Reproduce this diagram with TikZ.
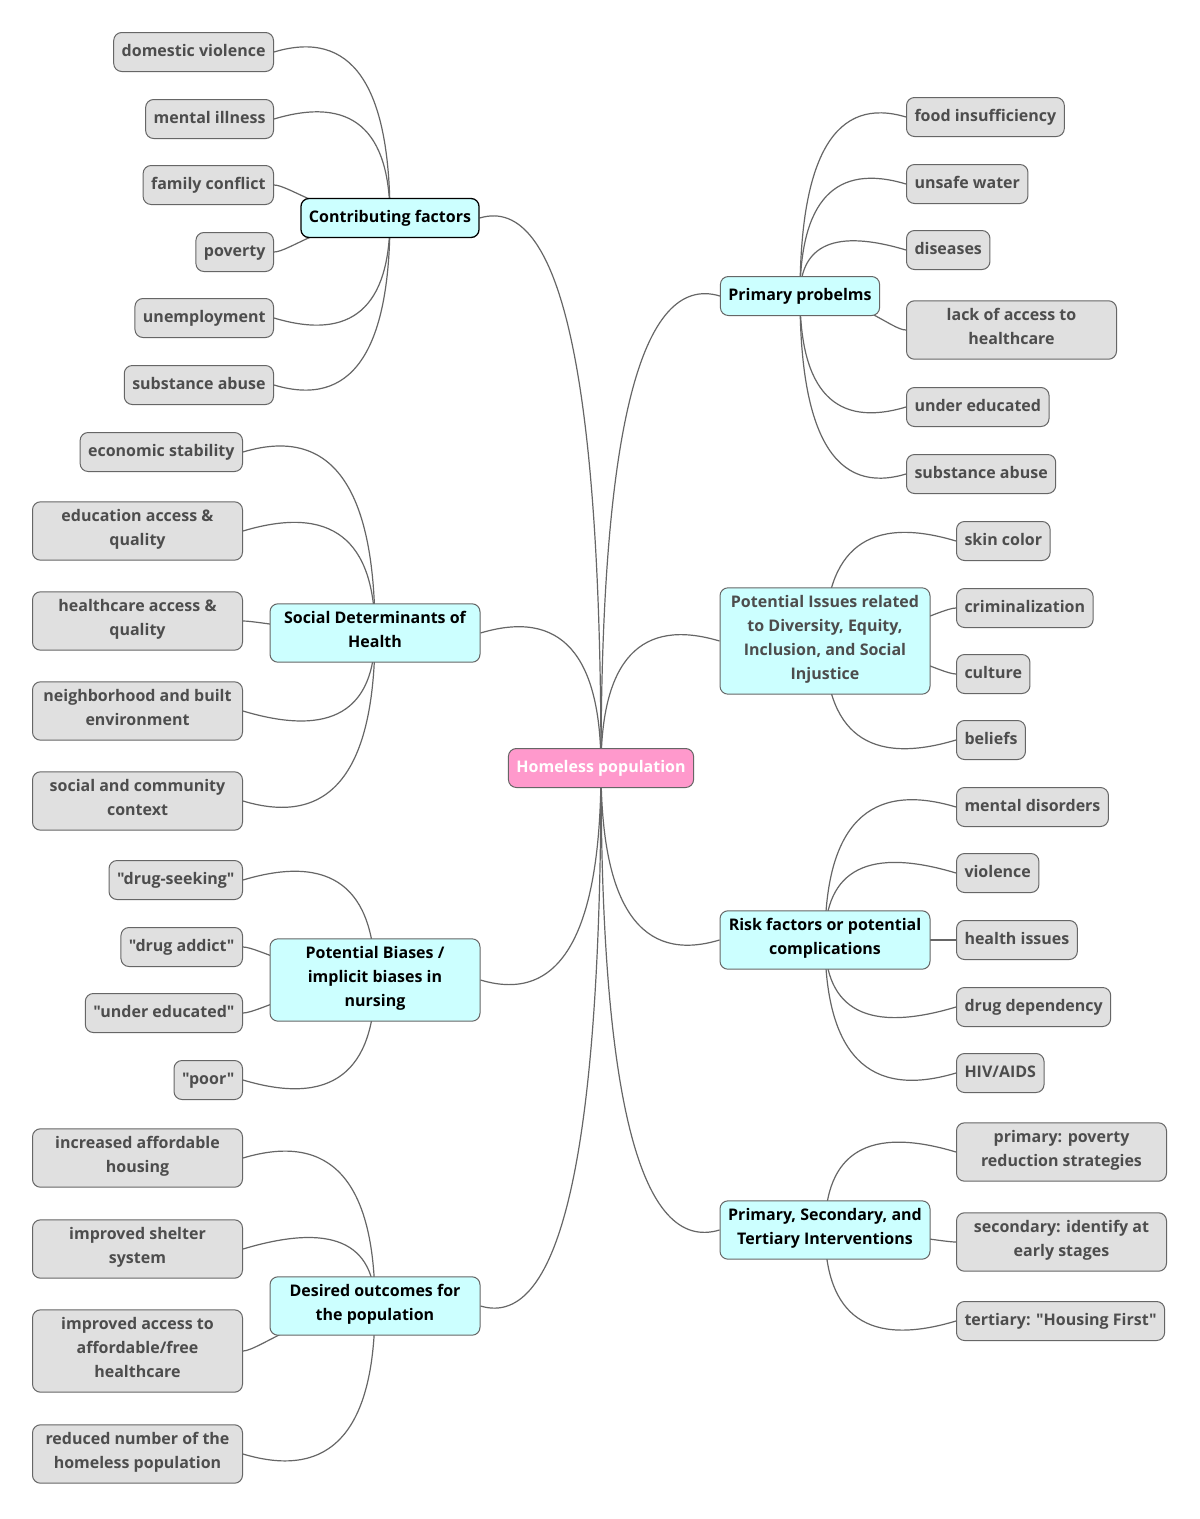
\documentclass[tikz,border=0pt]{standalone}
\usepackage{fontspec}
\setmainfont{Open Sans}[Ligatures=TeXOff]
\usetikzlibrary{calc,backgrounds}
\definecolor{linegray}{HTML}{666666}
\definecolor{leafgray}{HTML}{E0E0E0}
\definecolor{leaftext}{HTML}{4D4D4D}
\definecolor{branchcyan}{HTML}{CCFFFF}
\definecolor{hubpink}{HTML}{FF99CC}
\begin{document}
\begin{tikzpicture}[
  x=1pt, y=1pt,
  box/.style={rectangle, rounded corners=8pt, draw=linegray, line width=1pt, inner xsep=8pt, inner ysep=7.5pt, align=center,
    font=\fontsize{16}{24}\selectfont\bfseries, execute at begin node=\strut, execute at end node=\strut},
  leaf/.style={box, fill=leafgray, text=leaftext},
  wide/.style={minimum width=210pt},
  branch/.style={box, fill=branchcyan, text=black},
  hub/.style={box, fill=hubpink, text=white},
  mapline/.style={to path={let \p1=(\tikztostart), \p2=(\tikztotarget), \n1={sign(\y2-\y1)*0.3*abs(\x2-\x1)} in
    .. controls (\x1,{\y1+2/3*(\y2+\n1-\y1)}) and ({\x2+2/3*(\x1-\x2)},{\y2+2/3*\n1}) .. (\tikztotarget)}},
  nearl/.style={out=180, in=0, out distance=60pt, in distance=15pt},
  nearr/.style={out=0, in=180, out distance=60pt, in distance=15pt},
  link/.style={draw=linegray, line width=1.2pt}
]
\useasboundingbox (0,0) rectangle (1200,-1519);

\node[hub] (home) at (601,-768) {Homeless population};

\node[branch, draw=black, line width=1.3pt] (contrib) at (390,-218) {Contributing factors};
\node[leaf, anchor=east] (domestic) at (274,-52) {domestic violence};
\node[leaf, anchor=east] (mental) at (274,-119) {mental illness};
\node[leaf, anchor=east] (family) at (274,-185) {family conflict};
\node[leaf, anchor=east] (poverty) at (274,-252) {poverty};
\node[leaf, anchor=east] (unemploy) at (274,-318) {unemployment};
\node[leaf, anchor=east] (abuse_l) at (274,-385) {substance abuse};

\node[branch] (problems) at (800,-296) {Primary probelms};
\node[leaf, anchor=west] (food) at (906,-117) {food insufficiency};
\node[leaf, anchor=west] (water) at (906,-184) {unsafe water};
\node[leaf, anchor=west] (disease) at (906,-250) {diseases};
\node[leaf, wide, anchor=west] (access) at (906,-330) {lack of access to\\healthcare};
\node[leaf, anchor=west] (undered) at (906,-407) {under educated};
\node[leaf, anchor=west] (abuse_r) at (906,-474) {substance abuse};

\node[branch, wide, text=leaftext] (issues) at (825,-641) {Potential Issues related\\to Diversity, Equity,\\Inclusion, and Social\\Injustice};
\node[leaf, anchor=west] (skin) at (956,-541) {skin color};
\node[leaf, anchor=west] (crime) at (956,-608) {criminalization};
\node[leaf, anchor=west] (culture) at (956,-674) {culture};
\node[leaf, anchor=west] (belief) at (956,-740) {beliefs};

\node[branch, wide] (sdoh) at (375,-633) {Social Determinants of\\Health};
\node[leaf, anchor=east] (econ) at (243,-452) {economic stability};
\node[leaf, wide, anchor=east] (educ) at (243,-531) {education access \&\\quality};
\node[leaf, wide, anchor=east] (hcare) at (243,-621) {healthcare access \&\\quality};
\node[leaf, wide, anchor=east] (hood) at (243,-711) {neighborhood and built\\environment};
\node[leaf, wide, anchor=east] (social) at (243,-801) {social and community\\context};

\node[branch, wide] (bias) at (375,-980) {Potential Biases /\\implicit biases in\\nursing};
\node[leaf, anchor=east] (seeking) at (243,-880) {"drug-seeking"};
\node[leaf, anchor=east] (addict) at (243,-947) {"drug addict"};
\node[leaf, anchor=east] (uneduc) at (243,-1013) {"under educated"};
\node[leaf, anchor=east] (poor) at (243,-1080) {"poor"};

\node[branch, wide] (risk) at (825,-940) {Risk factors or potential\\complications};
\node[leaf, anchor=west] (disorder) at (956,-807) {mental disorders};
\node[leaf, anchor=west] (violence) at (956,-873) {violence};
\node[leaf, anchor=west] (health) at (956,-940) {health issues};
\node[leaf, anchor=west] (drug) at (956,-1007) {drug dependency};
\node[leaf, anchor=west] (hiv) at (956,-1073) {HIV/AIDS};

\node[branch, wide] (outcome) at (375,-1306) {Desired outcomes for\\the population};
\node[leaf, wide, anchor=east] (housing) at (243,-1158) {increased affordable\\housing};
\node[leaf, wide, anchor=east] (shelter) at (243,-1249) {improved shelter\\system};
\node[leaf, wide, anchor=east] (afford) at (243,-1351) {improved access to\\affordable/free\\healthcare};
\node[leaf, wide, anchor=east] (reduce) at (243,-1454) {reduced number of the\\homeless population};

\node[branch, wide] (levels) at (825,-1230) {Primary, Secondary, and\\Tertiary Interventions};
\node[leaf, wide, anchor=west] (prim) at (956,-1152) {primary: poverty\\reduction strategies};
\node[leaf, wide, anchor=west] (second) at (956,-1242) {secondary: identify at\\early stages};
\node[leaf, anchor=west] (tert) at (956,-1321) {tertiary: "Housing First"};

\begin{scope}[on background layer]
\fill[white] (0,0) rectangle (1200,-1519);
\draw[link] (home.center) to[mapline] (contrib.east);
\draw[link] (home.center) to[mapline] (sdoh.east);
\draw[link] (home.center) to[mapline] (bias.east);
\draw[link] (home.center) to[mapline] (outcome.east);
\draw[link] (home.center) to[mapline] (problems.west);
\draw[link] (home.center) to[mapline] (issues.west);
\draw[link] (home.center) to[mapline] (risk.west);
\draw[link] (home.center) to[mapline] (levels.west);

\draw[link] (contrib.center) to[mapline] (domestic.east);
\draw[link] (contrib.center) to[mapline] (mental.east);
\draw[link] (contrib.center) to[nearl] (family.east);
\draw[link] (contrib.center) to[nearl] (poverty.east);
\draw[link] (contrib.center) to[mapline] (unemploy.east);
\draw[link] (contrib.center) to[mapline] (abuse_l.east);

\draw[link] (problems.center) to[mapline] (food.west);
\draw[link] (problems.center) to[mapline] (water.west);
\draw[link] (problems.center) to[mapline] (disease.west);
\draw[link] (problems.center) to[nearr] (access.west);
\draw[link] (problems.center) to[mapline] (undered.west);
\draw[link] (problems.center) to[mapline] (abuse_r.west);

\draw[link] (issues.center) to[mapline] (skin.west);
\draw[link] (issues.center) to[nearr] (crime.west);
\draw[link] (issues.center) to[nearr] (culture.west);
\draw[link] (issues.center) to[mapline] (belief.west);

\draw[link] (sdoh.center) to[mapline] (econ.east);
\draw[link] (sdoh.center) to[mapline] (educ.east);
\draw[link] (sdoh.center) to[nearl] (hcare.east);
\draw[link] (sdoh.center) to[mapline] (hood.east);
\draw[link] (sdoh.center) to[mapline] (social.east);

\draw[link] (bias.center) to[mapline] (seeking.east);
\draw[link] (bias.center) to[nearl] (addict.east);
\draw[link] (bias.center) to[nearl] (uneduc.east);
\draw[link] (bias.center) to[mapline] (poor.east);

\draw[link] (risk.center) to[mapline] (disorder.west);
\draw[link] (risk.center) to[mapline] (violence.west);
\draw[link] (risk.center) to[nearr] (health.west);
\draw[link] (risk.center) to[mapline] (drug.west);
\draw[link] (risk.center) to[mapline] (hiv.west);

\draw[link] (outcome.center) to[mapline] (housing.east);
\draw[link] (outcome.center) to[mapline] (shelter.east);
\draw[link] (outcome.center) to[nearl] (afford.east);
\draw[link] (outcome.center) to[mapline] (reduce.east);

\draw[link] (levels.center) to[mapline] (prim.west);
\draw[link] (levels.center) to[nearr] (second.west);
\draw[link] (levels.center) to[mapline] (tert.west);
\end{scope}
\end{tikzpicture}
\end{document}
